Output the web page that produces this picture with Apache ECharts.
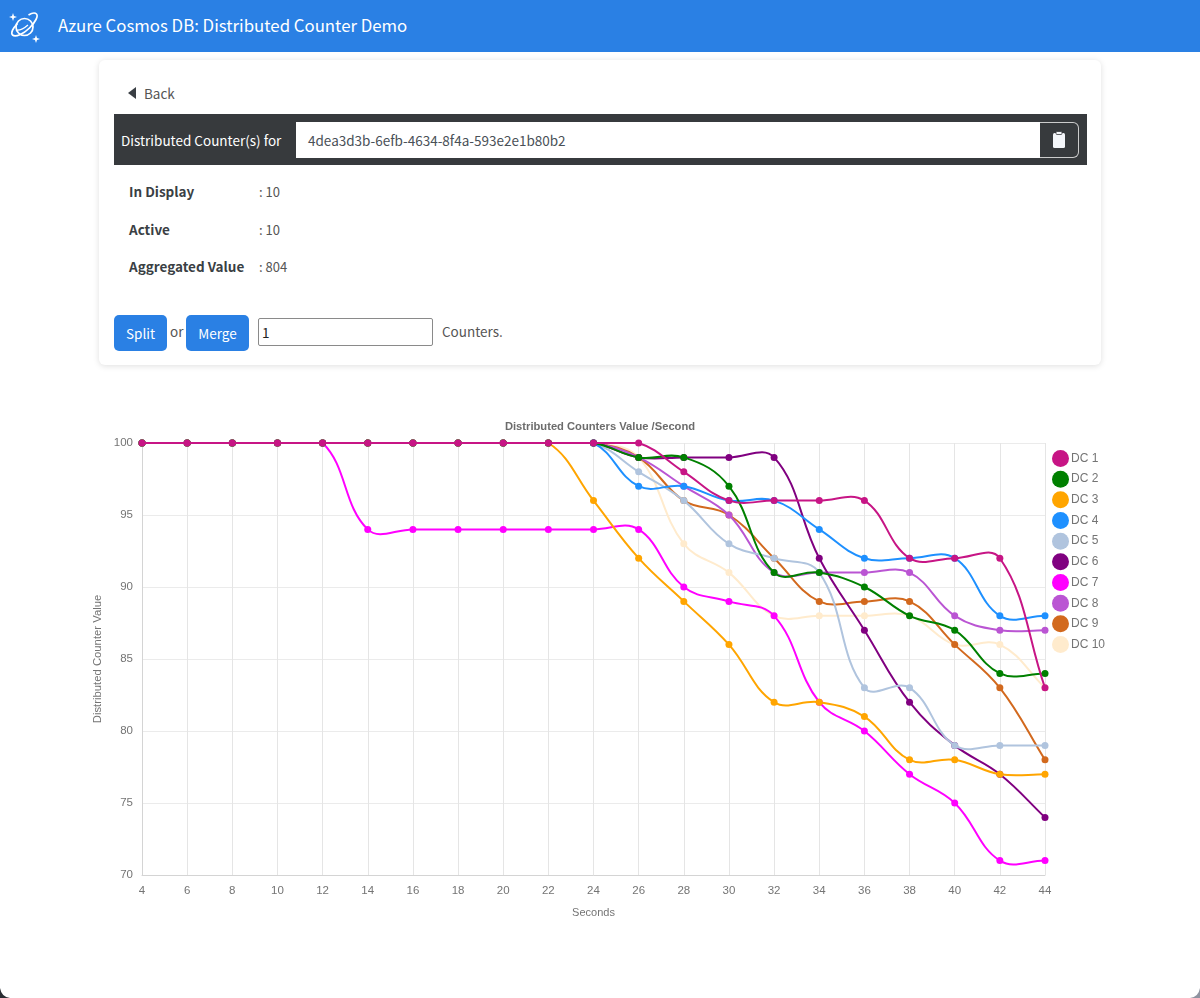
<!DOCTYPE html>
<html lang="en">
  <head>
    <meta charset="UTF-8" />
    <title>Azure Cosmos DB: Distributed Counter Demo</title>
    <style>
      * { box-sizing: border-box; }
      html, body { margin: 0; padding: 0; width: 1200px; height: 998px; overflow: hidden; background: #fff; }
      body { font-family: "Noto Sans CJK SC", "Noto Sans", sans-serif; color: #3f4448; position: relative; }
      .abs { position: absolute; white-space: nowrap; }
      #header { left: 0; top: 0; width: 1200px; height: 52px; background: #2a80e4; }
      #title { left: 58px; top: 12px; font-size: 16.8px; line-height: 26px; color: #fff; }
      #card { left: 99px; top: 60px; width: 1002px; height: 305px; background: #fff; border-radius: 6px; box-shadow: 0 1px 6px rgba(0, 0, 0, 0.13); }
      #bar { left: 114px; top: 114px; width: 973px; height: 51px; background: #373a3d; }
      #bar-label { left: 121px; top: 130px; font-size: 13.5px; line-height: 21px; color: #fff; }
      #guid { left: 296px; top: 122px; width: 745px; height: 36px; background: #fff; font-size: 13.5px; line-height: 36px; padding-left: 12px; color: #495057; }
      #copy { left: 1040px; top: 122px; width: 39px; height: 36px; background: #373a3d; border: 1px solid #ccc; border-left: none; border-radius: 0 6px 6px 0; }
      .key { left: 129px; font-size: 13.5px; line-height: 21px; font-weight: 700; color: #3a3f44; }
      .val { left: 259px; font-size: 13px; line-height: 21px; color: #555; }
      .btn { top: 315px; height: 36px; background: #2a80e4; color: #fff; border-radius: 5px; font-size: 13.5px; line-height: 37px; text-align: center; }
      #count { left: 258px; top: 318px; width: 175px; height: 28px; border: 1px solid #8a8a8a; border-radius: 2px; font-size: 13.5px; line-height: 26px; padding-left: 3px; color: #222; }
      #main { left: 0; top: 400px; width: 1200px; height: 540px; }
    </style>
  </head>
  <body>
    <div class="abs" id="header"></div>
    <svg class="abs" style="left: 8px; top: 10px" width="34" height="34" viewBox="0 0 34 34" fill="none" stroke="#fff" stroke-width="1.7">
      <circle cx="16.5" cy="17" r="8.5" />
      <path d="M9.5 13.5C5 18 2.5 23 4.5 25c3 2.5 11-1 17-7s9-12 7-14c-1.5-1.5-5-.8-8 1" />
      <path d="M8 20c3 .5 8-1.500 12-5" stroke-width="1.300" />
      <path d="M5 3l1 3 3 1-3 1-1 3-1-3-3-1 3-1z M28 25l1 3 3 1-3 1-1 3-1-3-3-1 3-1z" fill="#fff" stroke="none" />
    </svg>
    <div class="abs" id="title">Azure Cosmos DB: Distributed Counter Demo</div>

    <div class="abs" id="card"></div>
    <svg class="abs" style="left: 128px; top: 87px" width="9" height="13"><path d="M8 0V12L0 6z" fill="#3a3f44" /></svg>
    <div class="abs" style="left: 144px; top: 83px; font-size: 13.5px; line-height: 21px; color: #555">Back</div>
    <div class="abs" id="bar"></div>
    <div class="abs" id="bar-label">Distributed Counter(s) for</div>
    <div class="abs" id="guid">4dea3d3b-6efb-4634-8f4a-593e2e1b80b2</div>
    <div class="abs" id="copy"></div>
    <svg class="abs" style="left: 1052px; top: 131px" width="14" height="18">
      <rect x="1" y="2" width="12" height="15" rx="1.500" fill="#f4f6fa" />
      <rect x="4" y="0.500" width="6" height="3" rx="1" fill="#f4f6fa" stroke="#373a3d" stroke-width="0.800" />
    </svg>

    <div class="abs key" style="top: 181px">In Display</div>
    <div class="abs val" style="top: 181px">: 10</div>
    <div class="abs key" style="top: 219px">Active</div>
    <div class="abs val" style="top: 219px">: 10</div>
    <div class="abs key" style="top: 256px">Aggregated Value</div>
    <div class="abs val" style="top: 256px">: 804</div>

    <div class="abs btn" style="left: 114px; width: 53px">Split</div>
    <div class="abs" style="left: 170px; top: 321px; font-size: 13.5px; line-height: 21px; color: #555">or</div>
    <div class="abs btn" style="left: 186px; width: 63px">Merge</div>
    <div class="abs" id="count">1</div>
    <div class="abs" style="left: 442px; top: 321px; font-size: 13.5px; line-height: 21px; color: #555">Counters.</div>

    <div class="abs" id="main"></div>

    <svg class="abs" style="left: 0; top: 988px" width="10" height="10"><path d="M0 0V10H10Q1.500 9 0 0z" fill="#2a2d33" /></svg>
    <svg class="abs" style="left: 1190px; top: 988px" width="10" height="10"><path d="M10 0V10H0Q8.500 9 10 0z" fill="#8f93a0" /></svg>

    <script src="https://cdn.jsdelivr.net/npm/echarts@6.0.0/dist/echarts.min.js"></script>
    <script>
      const seconds = ["4", "6", "8", "10", "12", "14", "16", "18", "20", "22", "24", "26", "28", "30", "32", "34", "36", "38", "40", "42", "44"];

      const dc1 = [100, 100, 100, 100, 100, 100, 100, 100, 100, 100, 100, 100, 98, 96, 96, 96, 96, 92, 92, 92, 83];
      const dc2 = [100, 100, 100, 100, 100, 100, 100, 100, 100, 100, 100, 99, 99, 97, 91, 91, 90, 88, 87, 84, 84];
      const dc3 = [100, 100, 100, 100, 100, 100, 100, 100, 100, 100, 96, 92, 89, 86, 82, 82, 81, 78, 78, 77, 77];
      const dc4 = [100, 100, 100, 100, 100, 100, 100, 100, 100, 100, 100, 97, 97, 96, 96, 94, 92, 92, 92, 88, 88];
      const dc5 = [100, 100, 100, 100, 100, 100, 100, 100, 100, 100, 100, 98, 96, 93, 92, 91, 83, 83, 79, 79, 79];
      const dc6 = [100, 100, 100, 100, 100, 100, 100, 100, 100, 100, 100, 99, 99, 99, 99, 92, 87, 82, 79, 77, 74];
      const dc7 = [100, 100, 100, 100, 100, 94, 94, 94, 94, 94, 94, 94, 90, 89, 88, 82, 80, 77, 75, 71, 71];
      const dc8 = [100, 100, 100, 100, 100, 100, 100, 100, 100, 100, 100, 99, 97, 95, 91, 91, 91, 91, 88, 87, 87];
      const dc9 = [100, 100, 100, 100, 100, 100, 100, 100, 100, 100, 100, 99, 96, 95, 92, 89, 89, 89, 86, 83, 78];
      const dc10 = [100, 100, 100, 100, 100, 100, 100, 100, 100, 100, 100, 99, 93, 91, 88, 88, 88, 88, 86, 86, 83];

      const names = ["DC 1", "DC 2", "DC 3", "DC 4", "DC 5", "DC 6", "DC 7", "DC 8", "DC 9", "DC 10"];
      const values = [dc1, dc2, dc3, dc4, dc5, dc6, dc7, dc8, dc9, dc10];
      const colors = ["#c71585", "#008000", "#ffa500", "#1e90ff", "#b0c4de", "#800080", "#ff00ff", "#ba55d3", "#d2691e", "#ffebcd"];

      const chartFont = '"Liberation Sans", Arial, sans-serif';
      const textGrey = "#747474";
      const tension = 0.4;

      // the line series clamps its control points, so the overshoot of the curves needs a custom series
      function controlPoints(pts, i) {
        const p0 = pts[Math.max(i - 1, 0)];
        const p1 = pts[i];
        const p2 = pts[Math.min(i + 1, pts.length - 1)];
        const d01 = Math.hypot(p1[0] - p0[0], p1[1] - p0[1]);
        const d12 = Math.hypot(p2[0] - p1[0], p2[1] - p1[1]);
        const total = d01 + d12 || 1;
        const dx = p2[0] - p0[0];
        const dy = p2[1] - p0[1];
        return {
          prev: [p1[0] - (tension * d01 * dx) / total, p1[1] - (tension * d01 * dy) / total],
          next: [p1[0] + (tension * d12 * dx) / total, p1[1] + (tension * d12 * dy) / total],
        };
      }

      function renderCounter(seriesValues, color) {
        return function (params, api) {
          const i = params.dataIndex;
          const point = api.coord([i, seriesValues[i]]);
          const top = api.coord([0, 100])[1];
          const bottom = api.coord([0, 70])[1];
          const children = [];
          if (i > 0) {
            const pts = seriesValues.map((v, j) => api.coord([j, v]));
            const from = controlPoints(pts, i - 1).next;
            const to = controlPoints(pts, i).prev;
            const cap = (y) => Math.min(Math.max(y, top), bottom);
            children.push({
              type: "bezierCurve",
              shape: {
                x1: pts[i - 1][0],
                y1: pts[i - 1][1],
                cpx1: from[0],
                cpy1: cap(from[1]),
                cpx2: to[0],
                cpy2: cap(to[1]),
                x2: point[0],
                y2: point[1],
              },
              style: { stroke: color, lineWidth: 2, fill: null },
            });
          }
          children.push({
            type: "circle",
            shape: { cx: point[0], cy: point[1], r: 3.5 },
            style: { fill: color },
          });
          return { type: "group", children: children };
        };
      }

      var myChart = echarts.init(document.getElementById("main"), null, { renderer: "canvas" });

      myChart.setOption({
        animation: false,
        color: colors,
        title: {
          text: "Distributed Counters Value /Second",
          left: 595,
          top: 16,
          textAlign: "center",
          textStyle: { fontFamily: chartFont, fontSize: 11.2, fontWeight: "bold", color: "#6c6c6c" },
        },
        legend: {
          orient: "vertical",
          left: 1052,
          top: 50,
          icon: "circle",
          itemWidth: 17,
          itemHeight: 17,
          itemGap: 3.67,
          padding: 0,
          textStyle: { fontFamily: chartFont, fontSize: 12, color: textGrey, padding: [0, 0, 0, -3] },
          data: names,
        },
        grid: { left: 142, right: 155, top: 43, height: 432 },
        xAxis: {
          type: "category",
          boundaryGap: false,
          data: seconds,
          name: "Seconds",
          nameLocation: "middle",
          nameGap: 32,
          nameTextStyle: { fontFamily: chartFont, fontSize: 11, color: textGrey },
          axisTick: { show: false },
          axisLine: { lineStyle: { color: "#d4d4d4" } },
          axisLabel: { fontFamily: chartFont, fontSize: 11.5, color: textGrey, margin: 10, interval: 0 },
          splitLine: { show: true, lineStyle: { color: "#e5e5e5" } },
        },
        yAxis: {
          type: "value",
          min: 70,
          max: 100,
          interval: 5,
          name: "Distributed Counter Value",
          nameLocation: "middle",
          nameGap: 38,
          nameTextStyle: { fontFamily: chartFont, fontSize: 11.3, color: textGrey },
          axisLine: { show: true, lineStyle: { color: "#d4d4d4" } },
          axisTick: { show: false },
          axisLabel: { fontFamily: chartFont, fontSize: 11.5, color: textGrey, margin: 9 },
          splitLine: { show: true, lineStyle: { color: "#ebebeb" } },
        },
        series: names.map((name, i) => ({
          name: name,
          type: "custom",
          data: values[i].map((v, j) => [j, v]),
          encode: { x: 0, y: 1 },
          z: 20 - i,
          clip: false,
          itemStyle: { color: colors[i] },
          renderItem: renderCounter(values[i], colors[i]),
        })),
      });
    </script>
  </body>
</html>
